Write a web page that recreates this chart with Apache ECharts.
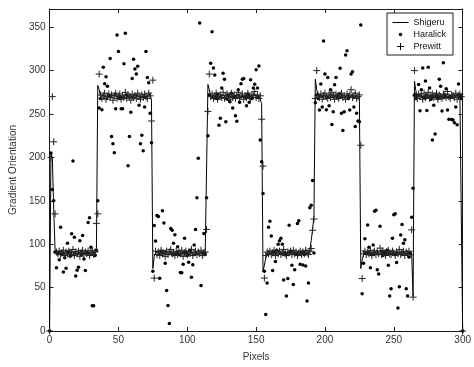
<!DOCTYPE html>
<html>
<head>
<meta charset="utf-8">
<script src="https://cdn.jsdelivr.net/npm/echarts@6/dist/echarts.min.js"></script>
<style>
  html, body { margin: 0; background: #fff; }
  #chart { width: 474px; height: 367px; }
</style>
</head>
<body>
<div id="chart"></div>
<script>
// one value per pixel column, x = 0..300
const shigeru = [
  0, 205, 200, 140, 93, 90, 88, 91, 89, 92,
  87, 90, 93, 89, 88, 91, 90, 86, 92, 89,
  91, 88, 90, 93, 87, 90, 89, 92, 88, 91,
  90, 87, 92, 89, 92, 283, 278, 270, 268, 272,
  269, 271, 267, 273, 270, 268, 271, 269, 274, 270,
  267, 272, 269, 271, 270, 268, 273, 269, 270, 272,
  267, 271, 269, 273, 270, 268, 271, 270, 269, 272,
  268, 271, 270, 273, 266, 72, 86, 90, 88, 92,
  89, 91, 87, 90, 93, 88, 90, 89, 92, 86,
  91, 89, 90, 93, 88, 90, 87, 92, 89, 91,
  90, 88, 93, 89, 91, 87, 90, 92, 88, 90,
  91, 89, 92, 88, 90, 284, 278, 271, 268, 272,
  269, 273, 270, 267, 271, 269, 272, 270, 268, 273,
  269, 271, 270, 267, 272, 269, 271, 273, 268, 270,
  272, 269, 271, 267, 270, 273, 268, 271, 269, 272,
  270, 268, 271, 269, 262, 68, 76, 84, 89, 91,
  88, 90, 92, 89, 87, 91, 90, 93, 88, 90,
  89, 92, 87, 90, 91, 88, 93, 89, 90, 87,
  92, 89, 91, 88, 90, 92, 89, 91, 88, 93,
  104, 117, 133, 290, 278, 271, 268, 272, 269, 273,
  270, 267, 271, 269, 274, 270, 268, 272, 269, 271,
  270, 267, 273, 269, 271, 270, 268, 272, 269, 271,
  273, 268, 270, 271, 269, 268, 72, 82, 88, 90,
  91, 88, 92, 89, 90, 87, 91, 90, 93, 88,
  90, 89, 92, 87, 91, 90, 88, 92, 89, 91,
  90, 87, 93, 89, 90, 88, 91, 92, 89, 90,
  88, 91, 90, 88, 40, 288, 277, 270, 268, 272,
  269, 271, 270, 267, 273, 269, 270, 272, 268, 271,
  270, 269, 273, 268, 271, 270, 267, 272, 269, 271,
  270, 268, 272, 269, 271, 270, 273, 268, 271, 270,
  0
];

const haralick = [
  0, 205, 163, 150, 91, 72.8, 89, 82, 119.6, 88,
  67.9, 84.5, 72.4, 101, 92, 86, 112, 196, 108, 63.3,
  70, 73.5, 104, 88, 110, 83, 69.8, 91, 125, 130.5,
  96.6, 29, 29, 87, 93, 150, 257, 268, 255, 304,
  285, 293, 282, 271, 314, 224, 215.7, 205.5, 256, 341,
  322, 268, 256, 256, 308, 343, 272, 190.5, 224, 252,
  291, 313, 302, 296, 305, 260, 215.7, 225.6, 207.8, 258,
  322, 292, 286, 251, 216.8, 68.7, 121.5, 103.7, 133, 132,
  60.7, 92, 138.5, 124.4, 78, 46.6, 29.4, 8.5, 118, 116,
  101, 111, 89, 97, 88, 67.5, 67, 77, 106.8, 91,
  87, 79.2, 93, 61.9, 76.2, 99, 117, 153.5, 199, 355,
  52.5, 90, 112.4, 88, 153.5, 225, 272, 308.5, 344.7, 303,
  295, 268, 273, 237, 245, 280, 297, 290, 241, 267,
  271, 264, 274, 257, 269, 248, 241.7, 278, 263.6, 285,
  290, 291, 270, 259.5, 273, 263.6, 289.6, 268, 280, 284.4,
  301, 280, 305.4, 220, 195, 158.4, 68.7, 19, 55.4, 119.6,
  126.4, 109.4, 69.8, 91, 80, 93, 100, 104, 107, 100,
  58.8, 88, 40.4, 60.4, 121.8, 92, 75.8, 53.6, 70.6, 89,
  124, 127, 77, 91, 76, 88, 75, 34.7, 55.4, 142,
  145, 173.5, 90, 263, 272, 268, 254.5, 284.7, 258, 334,
  296, 255, 292, 259.5, 278, 238, 252.7, 283.6, 292, 270,
  273, 302.8, 250.8, 231, 252.7, 318, 323, 268, 254.5, 296,
  298.6, 258, 235.5, 251, 242, 241, 352.6, 43, 78, 106.3,
  90, 122.2, 96.6, 72.8, 88, 99, 138, 139, 70.6, 65.6,
  120.7, 92, 87, 91, 89, 93, 75.8, 40.4, 48.6, 107,
  134, 135, 78.8, 26.5, 51, 110.5, 122.6, 101, 105, 48.6,
  40.4, 85.3, 90, 131, 164.5, 272, 268, 271, 283.9, 253.8,
  278, 303, 269, 288, 254, 304, 280, 267, 220, 260,
  227, 271, 268, 290, 282, 253.4, 309, 272, 279, 254.5,
  244, 270, 243.6, 243, 240, 258, 237.6, 284.7, 271, 268,
  0
];

const prewitt = [
  0, 200, 270, 218, 135, 91, 89, 92, 88, 90,
  93, 87, 91, 89, 92, 88, 90, 94, 87, 91,
  89, 92, 86, 90, 93, 88, 91, 89, 92, 87,
  90, 93, 88, 91, 124, 135, 296, 272, 268, 271,
  274, 267, 270, 273, 269, 272, 266, 271, 274, 268,
  270, 273, 267, 271, 269, 275, 268, 272, 270, 266,
  273, 269, 271, 268, 274, 270, 267, 272, 269, 273,
  270, 268, 274, 271, 242, 289, 61, 92, 88, 91,
  87, 93, 89, 90, 86, 92, 88, 91, 94, 89,
  90, 87, 92, 88, 91, 89, 93, 86, 90, 92,
  88, 91, 89, 94, 87, 90, 92, 88, 91, 89,
  93, 87, 90, 91, 117, 253, 296, 270, 273, 268,
  271, 274, 267, 270, 272, 269, 275, 268, 271, 273,
  267, 270, 274, 269, 272, 268, 271, 275, 269, 270,
  273, 267, 271, 269, 274, 270, 268, 272, 271, 276,
  269, 272, 268, 271, 244, 190, 61, 87, 91, 89,
  92, 88, 90, 93, 87, 91, 89, 92, 88, 90,
  94, 89, 87, 91, 90, 92, 88, 93, 89, 91,
  87, 90, 92, 88, 91, 89, 93, 90, 88, 92,
  95, 116, 129, 268, 300, 272, 269, 273, 267, 271,
  274, 270, 268, 272, 269, 275, 271, 267, 273, 270,
  268, 272, 274, 269, 271, 267, 273, 270, 272, 278,
  269, 271, 274, 268, 270, 272, 214, 60.4, 89, 92,
  88, 91, 89, 93, 87, 90, 92, 88, 91, 89,
  95.5, 88, 92, 90, 87, 91, 93, 89, 88, 92,
  90, 87, 91, 89, 94, 88, 90, 92, 87, 91,
  89, 92, 88, 116.5, 39, 300, 271, 268, 273, 270,
  272, 267, 274, 269, 271, 275, 268, 270, 273, 269,
  271, 274, 267, 272, 270, 268, 273, 271, 269, 276,
  270, 268, 272, 271, 269, 274, 267, 271, 273, 270,
  0
];

const xRange = [0, 300];
const yRange = [0, 371];
const tickStep = 50;

const FONT = 'Liberation Sans, Arial, sans-serif';
const AXIS_COLOR = '#1a1a1a';
const PLUS = 'path://M0,3.5H7M3.5,0V7';

const toPairs = (arr) => arr.map((v, i) => [i, v]);

const frameAxis = (extra) => Object.assign({
    type: 'value',
    interval: tickStep,
    axisLine: { show: true, onZero: false, lineStyle: { color: AXIS_COLOR, width: 1 } },
    axisTick: { show: true, inside: true, length: 4, lineStyle: { color: AXIS_COLOR } },
    splitLine: { show: false },
}, extra);

const chart = echarts.init(document.getElementById('chart'), null, { renderer: 'canvas' });

chart.setOption({
    animation: false,
    backgroundColor: '#fff',
    textStyle: { fontFamily: FONT },
    grid: { left: 38, top: 9, width: 425, height: 328, containLabel: false },
    xAxis: [
        frameAxis({
            position: 'bottom',
            min: xRange[0], max: xRange[1],
            name: 'Pixels',
            nameLocation: 'middle',
            nameGap: 21,
            nameTextStyle: { fontSize: 10, color: '#333', fontFamily: FONT },
            axisLabel: { fontSize: 10, color: '#333', margin: 4, fontFamily: FONT },
        }),
        frameAxis({
            position: 'top',
            min: xRange[0], max: xRange[1],
            axisLabel: { show: false },
        }),
    ],
    yAxis: [
        frameAxis({
            position: 'left',
            min: yRange[0], max: yRange[1],
            name: 'Gradient Orientation',
            nameLocation: 'middle',
            nameGap: 29,
            nameTextStyle: { fontSize: 10, color: '#333', fontFamily: FONT },
            axisLabel: { fontSize: 10, color: '#333', margin: 4, showMaxLabel: false, fontFamily: FONT },
        }),
        frameAxis({
            position: 'right',
            min: yRange[0], max: yRange[1],
            axisLabel: { show: false },
        }),
    ],
    legend: {
        orient: 'vertical',
        left: 387,
        top: 13,
        padding: [4, 7, 3, 5],
        itemWidth: 16,
        itemHeight: 8,
        itemGap: 1,
        selectedMode: false,
        backgroundColor: '#fff',
        borderColor: AXIS_COLOR,
        borderWidth: 1,
        textStyle: { fontSize: 9, lineHeight: 11, color: '#111', fontFamily: FONT },
        data: [
            {
                name: 'Shigeru',
                icon: 'path://M0,0M16,8M0,4H16',
                itemStyle: { color: 'transparent', borderColor: '#000', borderWidth: 1 },
            },
            {
                name: 'Haralick',
                icon: 'path://M0,0M16,8M6.3,4a1.7,1.7 0 1,0 3.4,0a1.7,1.7 0 1,0 -3.4,0z',
                itemStyle: { color: '#000', borderWidth: 0 },
            },
            {
                name: 'Prewitt',
                icon: 'path://M0,0M16,8M4.5,4H11.5M8,0.5V7.5',
                itemStyle: { color: 'transparent', borderColor: '#000', borderWidth: 1 },
            },
        ],
    },
    series: [
        {
            name: 'Shigeru',
            type: 'line',
            data: toPairs(shigeru),
            symbol: 'none',
            lineStyle: { color: '#000', width: 1 },
            itemStyle: { color: '#000' },
            emphasis: { disabled: true },
            z: 2,
        },
        {
            name: 'Haralick',
            type: 'scatter',
            data: toPairs(haralick),
            symbol: 'circle',
            symbolSize: 3.5,
            itemStyle: { color: '#000', opacity: 1 },
            emphasis: { disabled: true },
            z: 3,
        },
        {
            name: 'Prewitt',
            type: 'scatter',
            data: toPairs(prewitt),
            symbol: PLUS,
            symbolSize: 7,
            itemStyle: { color: 'transparent', borderColor: '#222', borderWidth: 1, opacity: 1 },
            emphasis: { disabled: true },
            z: 4,
        },
    ],
});
</script>
</body>
</html>
